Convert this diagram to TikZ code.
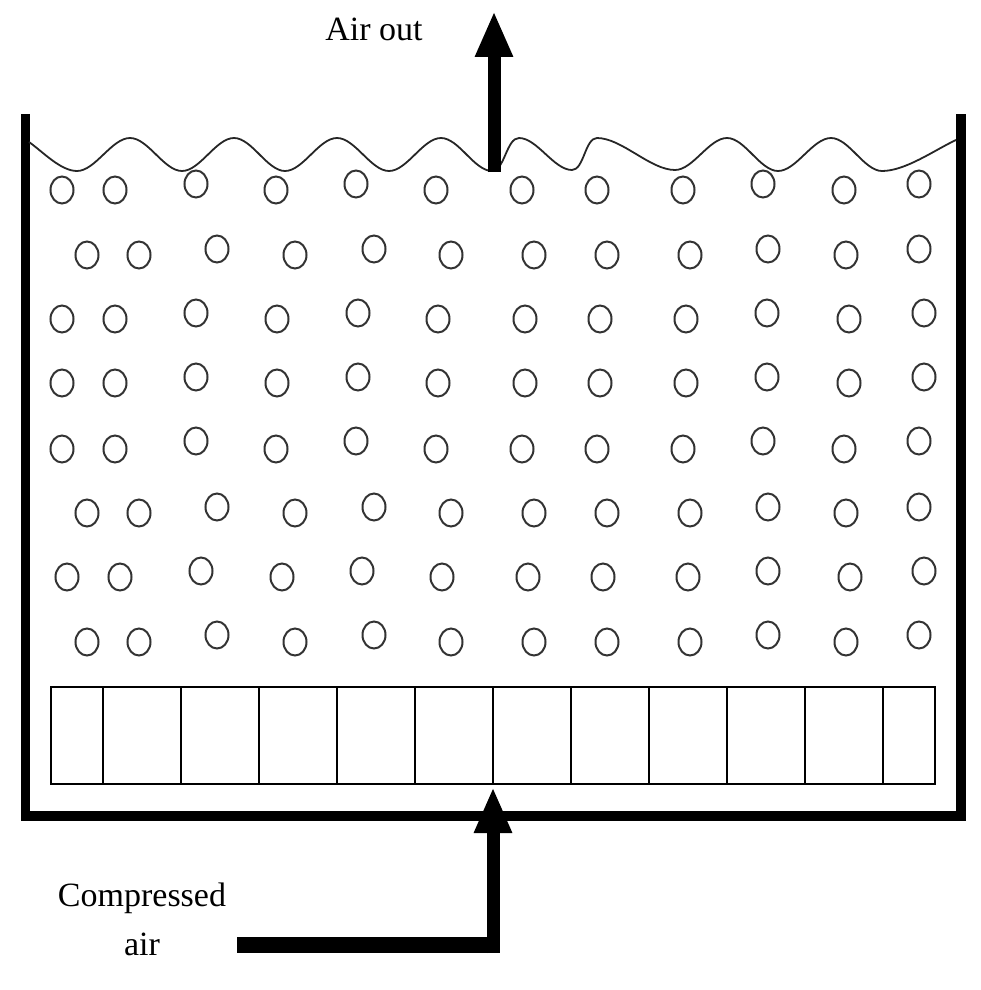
\documentclass[tikz,border=0pt]{standalone}
\usepackage{fontspec}
\setmainfont{Liberation Serif}
\usetikzlibrary{arrows.meta,shapes.geometric}

\tikzset{
  bubble/.style={ellipse, draw=black!80, line width=1pt, minimum width=11.5pt, minimum height=13.5pt, inner sep=0pt},
  label/.style={font=\fontsize{17}{24.5}\selectfont, align=center, inner sep=0pt},
  fatarrow/.style={-{Triangle[length=23pt,width=17.5pt]}, line width=6.5pt},
  wall/.style={line width=4.8pt, line join=miter},
  surface/.style={line width=0.9pt, black!85, looseness=0.75}
}

\begin{document}
\begin{tikzpicture}[x=0.5pt,y=-0.5pt]
\useasboundingbox (0,0) rectangle (980,990);

% tank
\draw [wall] (25.5,114) -- (25.5,816) -- (961,816) -- (961,114);

% water surface
\draw [surface] (29,142) to[out=-35,in=180] (77,171) to[out=0,in=180] (130,138) to[out=0,in=180] (182,171)
  to[out=0,in=180] (234,138) to[out=0,in=180] (285,171) to[out=0,in=180] (337,138) to[out=0,in=180] (389,171)
  to[out=0,in=180] (441,138) to[out=0,in=180] (492,171) to[out=0,in=180] (519,138) to[out=0,in=180] (572,170)
  to[out=0,in=180] (597,138) to[out=0,in=180] (675,170) to[out=0,in=180] (727,138) to[out=0,in=180] (778,171)
  to[out=0,in=180] (831,138) to[out=0,in=180] (882,171) to[out=0,in=205] (956,140);

% bubbles
\foreach \x/\y [count=\i] in {
  62/190,115/190,196/184,276/190,356/184,436/190,522/190,597/190,683/190,763/184,844/190,919/184,
  87/255,139/255,217/249,295/255,374/249,451/255,534/255,607/255,690/255,768/249,846/255,919/249,
  62/319,115/319,196/313,277/319,358/313,438/319,525/319,600/319,686/319,767/313,849/319,924/313,
  62/383,115/383,196/377,277/383,358/377,438/383,525/383,600/383,686/383,767/377,849/383,924/377,
  62/449,115/449,196/441,276/449,356/441,436/449,522/449,597/449,683/449,763/441,844/449,919/441,
  87/513,139/513,217/507,295/513,374/507,451/513,534/513,607/513,690/513,768/507,846/513,919/507,
  67/577,120/577,201/571,282/577,362/571,442/577,528/577,603/577,688/577,768/571,850/577,924/571,
  87/642,139/642,217/635,295/642,374/635,451/642,534/642,607/642,690/642,768/635,846/642,919/635}
  \node (bubble\i) [bubble] at (\x,\y) {};

% diffuser
\node (diffuser) [rectangle, draw, line width=0.9pt, minimum width=442pt, minimum height=48.5pt, inner sep=0pt] at (493,735.5) {};
\foreach \x in {103,181,259,337,415,493,571,649,727,805,883}
  \draw [line width=0.9pt] (\x,687) -- (\x,784);

% air lines
\coordinate (outbase) at (494,172);
\coordinate (outtip) at (494,11);
\coordinate (feed) at (237,945);
\coordinate (elbow) at (499.5,945);
\coordinate (riser) at (493,953);
\coordinate (inlet) at (493,787);
\draw [fatarrow] (outbase) -- (outtip);
\draw [line width=8pt] (feed) -- (elbow);
\draw [fatarrow] (riser) -- (inlet);

\node (airout) [label] at (374,29) {Air out};
\node (compressed) [label] at (142,919) {Compressed\\air};
\end{tikzpicture}
\end{document}
